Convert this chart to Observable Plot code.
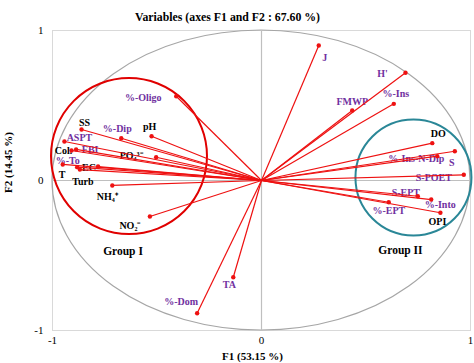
<!DOCTYPE html>
<html>
<head>
<meta charset="utf-8">
<script src="https://cdn.jsdelivr.net/npm/d3@7"></script>
<script src="https://cdn.jsdelivr.net/npm/@observablehq/plot@0.6"></script>
<style>
  body { margin: 0; background: #fff; }
</style>
</head>
<body>
<div id="chart"></div>
<script>
// ---- data ----
const variables = ["%-Oligo","SS","%-Dip","pH","ASPT","Col.","FBI","PO₄³⁻","%-To","T","Turb","EC","NH₄⁺","NO₂⁻",
  "J","H'","%-Ins","FMWP","DO","%-Ins-N-Dip","S","S-POET","S-EPT","%-Into","%-EPT","OPI","TA","%-Dom"];
const f1 = [-0.408,-0.861,-0.671,-0.526,-0.943,-0.909,-0.887,-0.504,-0.951,-0.882,-0.869,-0.782,-0.714,-0.534,
  0.274,0.689,0.633,0.434,0.817,0.841,0.925,0.968,0.748,0.812,0.609,0.856,-0.135,-0.308];
const f2 = [0.562,0.340,0.282,0.295,0.260,0.200,0.207,0.155,0.107,0.089,0.073,0.093,-0.033,-0.240,
  0.900,0.718,0.511,0.467,0.249,0.162,0.195,0.038,-0.105,-0.127,-0.145,-0.215,-0.645,-0.885];
const biological = ["%-Oligo","%-Dip","ASPT","FBI","%-To","J","H'","%-Ins","FMWP","%-Ins-N-Dip","S","S-POET","S-EPT","%-Into","%-EPT","TA","%-Dom"];
const groupNames = ["Group I","Group II"];
const groupCenterF1 = [-0.634, 0.727];
const groupCenterF2 = [0.163, 0.020];
const axisTicks = [-1, 0, 1];
const title = "Variables (axes F1 and F2 : 67.60 %)";
const xLabel = "F1 (53.15 %)";
const yLabel = "F2 (14.45 %)";

// ---- layout (label nudges in pixels) ----
const labelDx = [-33,3,-4,-2,15,-8,14,-25,5,-15,3,-9,-5,-20, 6,-23,2,0,6,-21,-3,-30,-12,9,0,-3,-4,-16];
const labelDy = [2,-7,-9,-9,-4,0,0,-1,-4,8,12,1,11,9, 12,1,-10,-9,-9,3,12,3,-3,5,9,9,8,-11];

const vars = variables.map((v, i) => ({name: v, x: f1[i], y: f2[i], bio: biological.includes(v)}));
const groups = groupNames.map((g, i) => ({name: g, x: groupCenterF1[i], y: groupCenterF2[i]}));

const red = "#ee1111";
const purple = "#7030a0";
const serif = "'Liberation Serif', 'Times New Roman', Times, serif";

const unitEllipse = (index, scales) => {
  const e = d3.create("svg:ellipse")
    .attr("cx", scales.x(0)).attr("cy", scales.y(0))
    .attr("rx", Math.abs(scales.x(1) - scales.x(0)))
    .attr("ry", Math.abs(scales.y(1) - scales.y(0)))
    .attr("fill", "none").attr("stroke", "#a6a6a6").attr("stroke-width", 1.2);
  return e.node();
};

// place each text at its point plus a pixel nudge
const nudge = (dxs, dys) => (index, scales, values, dims, ctx, next) => {
  const g = next(index, scales, values, dims, ctx);
  d3.select(g).selectAll("text").each(function(_, k) {
    const i = index[k];
    d3.select(this).attr("transform", `translate(${values.x[i] + dxs[i]},${values.y[i] + dys[i]})`);
  });
  return g;
};

const chart = Plot.plot({
  width: 474,
  height: 363,
  marginLeft: 52,
  marginRight: 4,
  marginTop: 30,
  marginBottom: 33,
  style: {fontFamily: serif, fontSize: "11px", background: "#fff"},
  x: {domain: [-1, 1]},
  y: {domain: [-1, 1]},
  marks: [
    Plot.frame({stroke: "#d9d9d9"}),
    unitEllipse,
    Plot.ruleX([0], {stroke: "#bfbfbf", strokeWidth: 1.2}),
    Plot.ruleY([0], {stroke: "#bfbfbf", strokeWidth: 1.2}),
    Plot.axisX({ticks: axisTicks, tickSize: 0, tickPadding: 6, label: null, fontSize: 11, tickFormat: d => String(d)}),
    Plot.axisY({ticks: axisTicks, tickSize: 0, tickPadding: 9, label: null, fontSize: 11, tickFormat: d => String(d)}),
    Plot.dot([groups[0]], {x: "x", y: "y", r: 78, stroke: "#e00000", strokeWidth: 2, fill: "none"}),
    Plot.dot([groups[1]], {x: "x", y: "y", r: 58, stroke: "#2a8797", strokeWidth: 2, fill: "none"}),
    Plot.text(vars, {x: "x", y: "y", text: "name", fill: d => d.bio ? purple : "#000",
      fontWeight: "bold", fontSize: 10, render: nudge(labelDx, labelDy)}),
    Plot.link(vars, {x1: 0, y1: 0, x2: "x", y2: "y", stroke: red, strokeWidth: 1.2}),
    Plot.dot(vars, {x: "x", y: "y", r: 2.2, fill: red}),
    Plot.text(groups, {x: "x", y: "y", text: "name", fontWeight: "bold", fontSize: 11.5, fill: "#000",
      render: nudge([-6, -13], [95, 73])}),
    Plot.text([title], {frameAnchor: "top", dy: -18, dx: -34, fontWeight: "bold", fontSize: 11.8}),
    Plot.text([xLabel], {frameAnchor: "bottom", dy: 29, dx: -9, fontWeight: "bold", fontSize: 11}),
    Plot.text([yLabel], {frameAnchor: "left", dx: -44, dy: -18, rotate: -90, textAnchor: "middle", fontWeight: "bold", fontSize: 11})
  ]
});
document.getElementById("chart").appendChild(chart);
</script>
</body>
</html>
